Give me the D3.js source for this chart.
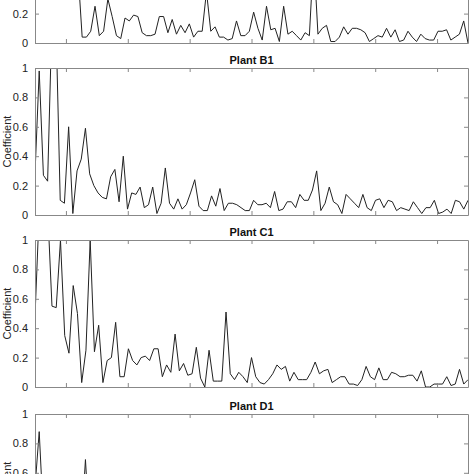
<!DOCTYPE html>
<html><head><meta charset="utf-8">
<script src="https://cdn.jsdelivr.net/npm/d3@7"></script>
<style>body{margin:0;background:#fff}svg{display:block}</style></head>
<body><svg id="c" width="474" height="474"></svg>
<script>
const titles = ["Plant A1","Plant B1","Plant C1","Plant D1"];
const yTicks = [0,0.2,0.4,0.6,0.8,1];
const xTicks = [20,40,60,80,100,120,140];
const seriesA = [0.6,0.9,0.5,0.7,0.8,0.4,0.5,1.0,0.6,0.8,0.5,0.04,0.04,0.08,0.25,0.05,0.08,0.3,0.18,0.05,0.03,0.17,0.15,0.19,0.18,0.07,0.05,0.05,0.06,0.18,0.18,0.07,0.16,0.06,0.12,0.07,0.13,0.04,0.08,0.08,0.35,0.08,0.11,0.04,0.04,0.02,0.03,0.15,0.05,0.05,0.08,0.21,0.1,0.02,0.25,0.09,0.1,0.01,0.25,0.06,0.08,0.05,0.02,0.07,0.05,0.6,0.06,0.1,0.12,0.01,0.01,0.04,0.11,0.06,0.1,0.1,0.09,0.07,0.01,0.03,0.05,0.04,0.1,0.04,0.09,0.01,0.02,0.08,0.04,0.01,0.06,0.03,0.02,0.02,0.08,0.08,0.09,0.02,0.04,0.06,0.15,0.0];
const seriesB = [0.28,0.98,0.27,0.23,1.3,1.3,0.1,0.08,0.6,0.01,0.3,0.38,0.59,0.28,0.2,0.15,0.12,0.11,0.26,0.31,0.09,0.4,0.04,0.15,0.14,0.19,0.05,0.07,0.19,0.01,0.08,0.32,0.08,0.04,0.11,0.04,0.07,0.15,0.24,0.06,0.03,0.03,0.13,0.06,0.18,0.03,0.08,0.08,0.07,0.05,0.03,0.03,0.1,0.07,0.07,0.08,0.05,0.16,0.03,0.04,0.09,0.09,0.05,0.14,0.1,0.1,0.17,0.3,0.03,0.08,0.19,0.09,0.07,0.01,0.14,0.11,0.08,0.05,0.14,0.05,0.03,0.1,0.11,0.05,0.1,0.09,0.03,0.05,0.04,0.03,0.09,0.05,0.01,0.05,0.05,0.1,0.01,0.02,0.04,0.01,0.1,0.09,0.04,0.1];
const seriesC = [0.48,1.2,1.2,1.2,0.55,0.54,1.0,0.35,0.23,0.69,0.5,0.03,0.25,1.0,0.24,0.42,0.03,0.18,0.2,0.44,0.07,0.07,0.26,0.18,0.15,0.2,0.21,0.18,0.26,0.26,0.07,0.15,0.1,0.36,0.11,0.16,0.08,0.09,0.27,0.06,0.0,0.25,0.04,0.04,0.04,0.51,0.09,0.05,0.1,0.07,0.03,0.2,0.07,0.03,0.02,0.05,0.09,0.15,0.12,0.14,0.04,0.1,0.05,0.05,0.05,0.1,0.17,0.09,0.11,0.12,0.03,0.05,0.07,0.07,0.02,0.02,0.01,0.05,0.14,0.07,0.05,0.13,0.05,0.05,0.1,0.09,0.07,0.07,0.08,0.08,0.04,0.11,0.0,0.0,0.02,0.02,0.02,0.07,0.01,0.02,0.12,0.02,0.05];
const seriesD = [0.5,0.88,0.3,0.2,0.45,0.35,0.1,0.3,0.25,0.4,0.15,0.2,0.69,0.2,0.3,0.1,0.25,0.15,0.2,0.1,0.3,0.12,0.18,0.08,0.2,0.1,0.15,0.05,0.12,0.2,0.08,0.1,0.15,0.05,0.1,0.12,0.06,0.1,0.18,0.05,0.08,0.1,0.04,0.12,0.06,0.1,0.05,0.08,0.15,0.06,0.04,0.1,0.05,0.08,0.12,0.04,0.06,0.1,0.05,0.03,0.08,0.06,0.1,0.04,0.12,0.05,0.07,0.03,0.09,0.05,0.06,0.1,0.03,0.05,0.08,0.04,0.06,0.02,0.09,0.05,0.04,0.07,0.03,0.06,0.08,0.02,0.05,0.04,0.07,0.03,0.05,0.02,0.06,0.04,0.03,0.08,0.02,0.05,0.04,0.06,0.03,0.05,0.02,0.04];
const allSeries = [seriesA, seriesB, seriesC, seriesD];
const tops = [-104, 68, 240, 414];
const L = 35, R = 468, H = 147;
const svg = d3.select("#c");
const x = d3.scaleLinear().domain([10,150]).range([L,R]);
allSeries.forEach((s,k)=>{
  const top = tops[k];
  const y = d3.scaleLinear().domain([0,1]).range([top+H, top]);
  const g = svg.append("g");
  const cid = "clip"+k;
  g.append("clipPath").attr("id",cid).append("rect").attr("x",L).attr("y",top).attr("width",R-L).attr("height",H);
  const n = s.length;
  const line = d3.line().x((d,i)=>x(10 + i*140/(n-1))).y(d=>y(d));
  g.append("path").datum(s).attr("d",line).attr("fill","none").attr("stroke","#222").attr("stroke-width",1).attr("clip-path",`url(#${cid})`);
  const ax = (gen, tr) => {const a = g.append("g").attr("transform",tr).call(gen);
    a.select(".domain").attr("stroke","#888"); a.selectAll(".tick line").attr("stroke","#888");
    a.selectAll("text").attr("font-family","Liberation Sans, Arial").attr("font-size",11).attr("fill","#222"); return a;};
  ax(d3.axisLeft(y).tickValues(yTicks).tickSize(-4).tickPadding(7).tickFormat(d3.format("~g")).tickSizeOuter(0), `translate(${L},0)`);
  ax(d3.axisRight(y).tickValues(yTicks).tickSize(-4).tickFormat("").tickSizeOuter(0), `translate(${R},0)`);
  ax(d3.axisBottom(x).tickValues(xTicks).tickSize(-4).tickFormat("").tickSizeOuter(0), `translate(0,${top+H})`);
  ax(d3.axisTop(x).tickValues(xTicks).tickSize(-4).tickFormat("").tickSizeOuter(0), `translate(0,${top})`);
  g.append("text").attr("x",(L+R)/2).attr("y",top-4).attr("text-anchor","middle")
   .attr("font-family","Liberation Sans, Arial").attr("font-weight","bold").attr("font-size",11).attr("fill","#111").text(titles[k]);
  g.append("text").attr("transform",`translate(11,${top+H/2}) rotate(-90)`).attr("text-anchor","middle")
   .attr("font-family","Liberation Sans, Arial").attr("font-size",11).attr("fill","#222").text("Coefficient");
});
</script></body></html>
